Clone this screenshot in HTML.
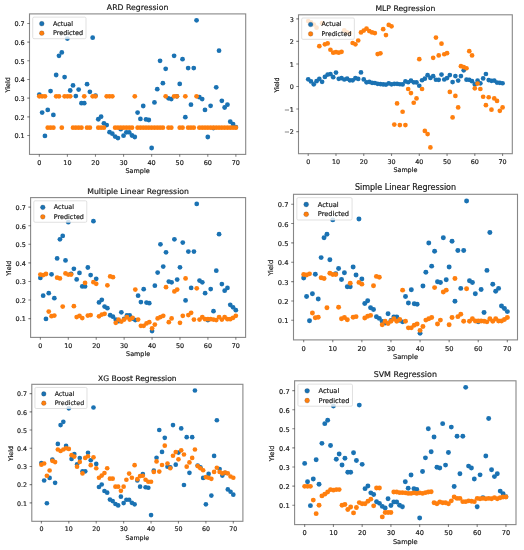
<!DOCTYPE html>
<html lang="en">
<head>
<meta charset="utf-8">
<title>Regression model comparison</title>
<style>
html,body{margin:0;padding:0;background:#fff;}
body{width:524px;height:550px;overflow:hidden;}
svg{display:block;font-family:"DejaVu Sans", "Liberation Sans", sans-serif;}
</style>
</head>
<body>
<svg width="524" height="550" viewBox="0 0 524 550">
<rect width="524" height="550" fill="#fff"/>
<g>
<g fill="#1a72b3">
<circle cx="39.33" cy="94.61" r="2.39"/><circle cx="42.14" cy="112.53" r="2.39"/><circle cx="44.94" cy="135.88" r="2.39"/><circle cx="47.75" cy="109.92" r="2.39"/><circle cx="50.56" cy="91.06" r="2.39"/><circle cx="53.37" cy="114.96" r="2.39"/><circle cx="56.17" cy="75" r="2.39"/><circle cx="58.98" cy="55.77" r="2.39"/><circle cx="61.79" cy="52.4" r="2.39"/><circle cx="64.6" cy="77.05" r="2.39"/><circle cx="67.41" cy="38.59" r="2.39"/><circle cx="70.21" cy="90.5" r="2.39"/><circle cx="73.02" cy="85.46" r="2.39"/><circle cx="75.83" cy="96.1" r="2.39"/><circle cx="78.64" cy="89.57" r="2.39"/><circle cx="81.44" cy="103.2" r="2.39"/><circle cx="84.25" cy="103.2" r="2.39"/><circle cx="87.06" cy="84.15" r="2.39"/><circle cx="89.87" cy="91.81" r="2.39"/><circle cx="92.68" cy="37.65" r="2.39"/><circle cx="95.48" cy="95.54" r="2.39"/><circle cx="98.29" cy="119.26" r="2.39"/><circle cx="101.1" cy="116.64" r="2.39"/><circle cx="103.91" cy="123.36" r="2.39"/><circle cx="106.71" cy="125.05" r="2.39"/><circle cx="109.52" cy="132.14" r="2.39"/><circle cx="112.33" cy="133.63" r="2.39"/><circle cx="115.14" cy="136.62" r="2.39"/><circle cx="117.95" cy="138.12" r="2.39"/><circle cx="120.75" cy="129.15" r="2.39"/><circle cx="123.56" cy="135.69" r="2.39"/><circle cx="126.37" cy="132.33" r="2.39"/><circle cx="129.18" cy="132.33" r="2.39"/><circle cx="131.98" cy="135.5" r="2.39"/><circle cx="134.79" cy="137" r="2.39"/><circle cx="137.6" cy="112.53" r="2.39"/><circle cx="140.41" cy="118.88" r="2.39"/><circle cx="143.22" cy="106" r="2.39"/><circle cx="146.02" cy="119.44" r="2.39"/><circle cx="148.83" cy="120" r="2.39"/><circle cx="151.64" cy="148.01" r="2.39"/><circle cx="154.45" cy="102.45" r="2.39"/><circle cx="157.25" cy="89.19" r="2.39"/><circle cx="160.06" cy="60.81" r="2.39"/><circle cx="162.87" cy="83.22" r="2.39"/><circle cx="165.68" cy="68.84" r="2.39"/><circle cx="168.49" cy="98.34" r="2.39"/><circle cx="171.29" cy="99.09" r="2.39"/><circle cx="174.1" cy="55.77" r="2.39"/><circle cx="176.91" cy="96.29" r="2.39"/><circle cx="179.72" cy="83.96" r="2.39"/><circle cx="182.52" cy="59.13" r="2.39"/><circle cx="185.33" cy="117.2" r="2.39"/><circle cx="188.14" cy="68.09" r="2.39"/><circle cx="190.95" cy="104.69" r="2.39"/><circle cx="193.76" cy="68.09" r="2.39"/><circle cx="196.56" cy="20.29" r="2.39"/><circle cx="199.37" cy="97.22" r="2.39"/><circle cx="202.18" cy="99.09" r="2.39"/><circle cx="204.99" cy="109.92" r="2.39"/><circle cx="207.79" cy="137" r="2.39"/><circle cx="210.6" cy="105.81" r="2.39"/><circle cx="213.41" cy="128.03" r="2.39"/><circle cx="216.22" cy="87.32" r="2.39"/><circle cx="219.03" cy="50.72" r="2.39"/><circle cx="221.83" cy="100.77" r="2.39"/><circle cx="224.64" cy="107.49" r="2.39"/><circle cx="227.45" cy="104.69" r="2.39"/><circle cx="230.26" cy="121.68" r="2.39"/><circle cx="233.06" cy="124.11" r="2.39"/><circle cx="235.87" cy="127.1" r="2.39"/>
</g>
<g fill="#ff7f0e">
<circle cx="39.33" cy="96.29" r="2.39"/><circle cx="42.14" cy="96.29" r="2.39"/><circle cx="44.94" cy="96.29" r="2.39"/><circle cx="47.75" cy="127.66" r="2.39"/><circle cx="50.56" cy="127.66" r="2.39"/><circle cx="53.37" cy="127.66" r="2.39"/><circle cx="56.17" cy="96.29" r="2.39"/><circle cx="58.98" cy="96.29" r="2.39"/><circle cx="61.79" cy="127.66" r="2.39"/><circle cx="64.6" cy="96.29" r="2.39"/><circle cx="67.41" cy="96.29" r="2.39"/><circle cx="70.21" cy="96.29" r="2.39"/><circle cx="73.02" cy="127.66" r="2.39"/><circle cx="75.83" cy="127.66" r="2.39"/><circle cx="78.64" cy="127.66" r="2.39"/><circle cx="81.44" cy="127.66" r="2.39"/><circle cx="84.25" cy="96.29" r="2.39"/><circle cx="87.06" cy="127.66" r="2.39"/><circle cx="89.87" cy="127.66" r="2.39"/><circle cx="92.68" cy="96.29" r="2.39"/><circle cx="95.48" cy="96.29" r="2.39"/><circle cx="98.29" cy="127.66" r="2.39"/><circle cx="101.1" cy="127.66" r="2.39"/><circle cx="103.91" cy="127.66" r="2.39"/><circle cx="106.71" cy="96.29" r="2.39"/><circle cx="109.52" cy="96.29" r="2.39"/><circle cx="112.33" cy="96.29" r="2.39"/><circle cx="115.14" cy="127.66" r="2.39"/><circle cx="117.95" cy="127.66" r="2.39"/><circle cx="120.75" cy="127.66" r="2.39"/><circle cx="123.56" cy="127.66" r="2.39"/><circle cx="126.37" cy="127.66" r="2.39"/><circle cx="129.18" cy="127.66" r="2.39"/><circle cx="131.98" cy="127.66" r="2.39"/><circle cx="134.79" cy="96.29" r="2.39"/><circle cx="137.6" cy="127.66" r="2.39"/><circle cx="140.41" cy="127.66" r="2.39"/><circle cx="143.22" cy="127.66" r="2.39"/><circle cx="146.02" cy="127.66" r="2.39"/><circle cx="148.83" cy="127.66" r="2.39"/><circle cx="151.64" cy="127.66" r="2.39"/><circle cx="154.45" cy="127.66" r="2.39"/><circle cx="157.25" cy="127.66" r="2.39"/><circle cx="160.06" cy="127.66" r="2.39"/><circle cx="162.87" cy="127.66" r="2.39"/><circle cx="165.68" cy="96.29" r="2.39"/><circle cx="168.49" cy="127.66" r="2.39"/><circle cx="171.29" cy="127.66" r="2.39"/><circle cx="174.1" cy="96.29" r="2.39"/><circle cx="176.91" cy="96.29" r="2.39"/><circle cx="179.72" cy="127.66" r="2.39"/><circle cx="182.52" cy="127.66" r="2.39"/><circle cx="185.33" cy="96.29" r="2.39"/><circle cx="188.14" cy="127.66" r="2.39"/><circle cx="190.95" cy="127.66" r="2.39"/><circle cx="193.76" cy="127.66" r="2.39"/><circle cx="196.56" cy="96.29" r="2.39"/><circle cx="199.37" cy="127.66" r="2.39"/><circle cx="202.18" cy="127.66" r="2.39"/><circle cx="204.99" cy="127.66" r="2.39"/><circle cx="207.79" cy="127.66" r="2.39"/><circle cx="210.6" cy="127.66" r="2.39"/><circle cx="213.41" cy="127.66" r="2.39"/><circle cx="216.22" cy="127.66" r="2.39"/><circle cx="219.03" cy="127.66" r="2.39"/><circle cx="221.83" cy="127.66" r="2.39"/><circle cx="224.64" cy="127.66" r="2.39"/><circle cx="227.45" cy="127.66" r="2.39"/><circle cx="230.26" cy="127.66" r="2.39"/><circle cx="233.06" cy="127.66" r="2.39"/><circle cx="235.87" cy="127.66" r="2.39"/>
</g>
<rect x="29.5" y="13.9" width="216.2" height="140.5" fill="none" stroke="#000" stroke-opacity="0.47" stroke-width="1.1"/>
<path d="M39.33 154.4v2.26M67.41 154.4v2.26M95.48 154.4v2.26M123.56 154.4v2.26M151.64 154.4v2.26M179.72 154.4v2.26M207.79 154.4v2.26M235.87 154.4v2.26M29.5 135.5h-2.26M29.5 116.83h-2.26M29.5 98.16h-2.26M29.5 79.48h-2.26M29.5 60.81h-2.26M29.5 42.13h-2.26M29.5 23.46h-2.26" stroke="#000" stroke-opacity="0.47" stroke-width="1.1" fill="none"/>
<g font-size="6.46" fill="#1a1a1a" stroke="#1a1a1a" stroke-width="0.18">
<text x="39.33" y="164.67" text-anchor="middle">0</text>
<text x="67.41" y="164.67" text-anchor="middle">10</text>
<text x="95.48" y="164.67" text-anchor="middle">20</text>
<text x="123.56" y="164.67" text-anchor="middle">30</text>
<text x="151.64" y="164.67" text-anchor="middle">40</text>
<text x="179.72" y="164.67" text-anchor="middle">50</text>
<text x="207.79" y="164.67" text-anchor="middle">60</text>
<text x="235.87" y="164.67" text-anchor="middle">70</text>
<text x="24.66" y="138.34" text-anchor="end">0.1</text>
<text x="24.66" y="119.67" text-anchor="end">0.2</text>
<text x="24.66" y="101" text-anchor="end">0.3</text>
<text x="24.66" y="82.32" text-anchor="end">0.4</text>
<text x="24.66" y="63.65" text-anchor="end">0.5</text>
<text x="24.66" y="44.98" text-anchor="end">0.6</text>
<text x="24.66" y="26.3" text-anchor="end">0.7</text>
<text x="137.6" y="173.26" text-anchor="middle">Sample</text>
<text transform="translate(9.8 84.85) rotate(-90)" text-anchor="middle">Yield</text>
<rect x="32.73" y="17.13" width="53.28" height="21.57" rx="1.29" fill="#fff" fill-opacity="0.8" stroke="#d4d4d4" stroke-width="0.7"/>
<circle cx="41.77" cy="23.72" r="2.39" fill="#1a72b3"/>
<circle cx="41.77" cy="33.21" r="2.39" fill="#ff7f0e"/>
<text x="52.88" y="25.72">Actual</text>
<text x="52.88" y="35.21">Predicted</text>
</g>
<text x="137.6" y="10.03" text-anchor="middle" font-size="7.75" fill="#1a1a1a" stroke="#1a1a1a" stroke-width="0.18">ARD Regression</text>
</g>
<g>
<g fill="#1a72b3">
<circle cx="308.22" cy="79.31" r="2.36"/><circle cx="310.99" cy="81.48" r="2.36"/><circle cx="313.77" cy="84.3" r="2.36"/><circle cx="316.55" cy="81.16" r="2.36"/><circle cx="319.32" cy="78.88" r="2.36"/><circle cx="322.1" cy="81.77" r="2.36"/><circle cx="324.88" cy="76.94" r="2.36"/><circle cx="327.65" cy="74.62" r="2.36"/><circle cx="330.43" cy="74.22" r="2.36"/><circle cx="333.21" cy="77.19" r="2.36"/><circle cx="335.98" cy="72.55" r="2.36"/><circle cx="338.76" cy="78.82" r="2.36"/><circle cx="341.54" cy="78.21" r="2.36"/><circle cx="344.31" cy="79.49" r="2.36"/><circle cx="347.09" cy="78.7" r="2.36"/><circle cx="349.87" cy="80.35" r="2.36"/><circle cx="352.64" cy="80.35" r="2.36"/><circle cx="355.42" cy="78.05" r="2.36"/><circle cx="358.2" cy="78.97" r="2.36"/><circle cx="360.97" cy="72.43" r="2.36"/><circle cx="363.75" cy="79.42" r="2.36"/><circle cx="366.53" cy="82.29" r="2.36"/><circle cx="369.3" cy="81.97" r="2.36"/><circle cx="372.08" cy="82.78" r="2.36"/><circle cx="374.86" cy="82.99" r="2.36"/><circle cx="377.63" cy="83.84" r="2.36"/><circle cx="380.41" cy="84.02" r="2.36"/><circle cx="383.19" cy="84.39" r="2.36"/><circle cx="385.96" cy="84.57" r="2.36"/><circle cx="388.74" cy="83.48" r="2.36"/><circle cx="391.52" cy="84.27" r="2.36"/><circle cx="394.29" cy="83.87" r="2.36"/><circle cx="397.07" cy="83.87" r="2.36"/><circle cx="399.85" cy="84.25" r="2.36"/><circle cx="402.62" cy="84.43" r="2.36"/><circle cx="405.4" cy="81.48" r="2.36"/><circle cx="408.18" cy="82.24" r="2.36"/><circle cx="410.95" cy="80.69" r="2.36"/><circle cx="413.73" cy="82.31" r="2.36"/><circle cx="416.51" cy="82.38" r="2.36"/><circle cx="419.28" cy="85.76" r="2.36"/><circle cx="422.06" cy="80.26" r="2.36"/><circle cx="424.84" cy="78.66" r="2.36"/><circle cx="427.61" cy="75.23" r="2.36"/><circle cx="430.39" cy="77.94" r="2.36"/><circle cx="433.17" cy="76.2" r="2.36"/><circle cx="435.94" cy="79.76" r="2.36"/><circle cx="438.72" cy="79.85" r="2.36"/><circle cx="441.5" cy="74.62" r="2.36"/><circle cx="444.27" cy="79.51" r="2.36"/><circle cx="447.05" cy="78.03" r="2.36"/><circle cx="449.83" cy="75.03" r="2.36"/><circle cx="452.6" cy="82.04" r="2.36"/><circle cx="455.38" cy="76.11" r="2.36"/><circle cx="458.16" cy="80.53" r="2.36"/><circle cx="460.93" cy="76.11" r="2.36"/><circle cx="463.71" cy="70.34" r="2.36"/><circle cx="466.49" cy="79.63" r="2.36"/><circle cx="469.26" cy="79.85" r="2.36"/><circle cx="472.04" cy="81.16" r="2.36"/><circle cx="474.82" cy="84.43" r="2.36"/><circle cx="477.59" cy="80.66" r="2.36"/><circle cx="480.37" cy="83.35" r="2.36"/><circle cx="483.15" cy="78.43" r="2.36"/><circle cx="485.92" cy="74.01" r="2.36"/><circle cx="488.7" cy="80.06" r="2.36"/><circle cx="491.48" cy="80.87" r="2.36"/><circle cx="494.25" cy="80.53" r="2.36"/><circle cx="497.03" cy="82.58" r="2.36"/><circle cx="499.81" cy="82.87" r="2.36"/><circle cx="502.58" cy="83.24" r="2.36"/>
</g>
<g fill="#ff7f0e">
<circle cx="308.22" cy="21.11" r="2.36"/><circle cx="310.99" cy="22.24" r="2.36"/><circle cx="313.77" cy="24.5" r="2.36"/><circle cx="316.55" cy="27.65" r="2.36"/><circle cx="319.32" cy="46.14" r="2.36"/><circle cx="322.1" cy="23.14" r="2.36"/><circle cx="324.88" cy="44.34" r="2.36"/><circle cx="327.65" cy="43.44" r="2.36"/><circle cx="330.43" cy="49.75" r="2.36"/><circle cx="333.21" cy="52.68" r="2.36"/><circle cx="335.98" cy="52.23" r="2.36"/><circle cx="338.76" cy="52.68" r="2.36"/><circle cx="341.54" cy="51.78" r="2.36"/><circle cx="344.31" cy="30.36" r="2.36"/><circle cx="347.09" cy="32.39" r="2.36"/><circle cx="349.87" cy="33.29" r="2.36"/><circle cx="352.64" cy="42.99" r="2.36"/><circle cx="355.42" cy="44.34" r="2.36"/><circle cx="358.2" cy="40.51" r="2.36"/><circle cx="360.97" cy="32.39" r="2.36"/><circle cx="363.75" cy="30.58" r="2.36"/><circle cx="366.53" cy="28.55" r="2.36"/><circle cx="369.3" cy="31.04" r="2.36"/><circle cx="372.08" cy="32.39" r="2.36"/><circle cx="374.86" cy="33.06" r="2.36"/><circle cx="377.63" cy="54.03" r="2.36"/><circle cx="380.41" cy="53.36" r="2.36"/><circle cx="383.19" cy="29.23" r="2.36"/><circle cx="385.96" cy="35.09" r="2.36"/><circle cx="388.74" cy="24.95" r="2.36"/><circle cx="391.52" cy="26.3" r="2.36"/><circle cx="394.29" cy="124.61" r="2.36"/><circle cx="397.07" cy="103.42" r="2.36"/><circle cx="399.85" cy="125.06" r="2.36"/><circle cx="402.62" cy="111.76" r="2.36"/><circle cx="405.4" cy="125.06" r="2.36"/><circle cx="408.18" cy="88.99" r="2.36"/><circle cx="410.95" cy="93.04" r="2.36"/><circle cx="413.73" cy="102.74" r="2.36"/><circle cx="416.51" cy="98.46" r="2.36"/><circle cx="419.28" cy="59.22" r="2.36"/><circle cx="422.06" cy="88.99" r="2.36"/><circle cx="424.84" cy="130.93" r="2.36"/><circle cx="427.61" cy="134.08" r="2.36"/><circle cx="430.39" cy="147.39" r="2.36"/><circle cx="433.17" cy="57.87" r="2.36"/><circle cx="435.94" cy="37.57" r="2.36"/><circle cx="438.72" cy="55.39" r="2.36"/><circle cx="441.5" cy="43.66" r="2.36"/><circle cx="444.27" cy="54.26" r="2.36"/><circle cx="447.05" cy="53.13" r="2.36"/><circle cx="449.83" cy="91.92" r="2.36"/><circle cx="452.6" cy="117.4" r="2.36"/><circle cx="455.38" cy="95.98" r="2.36"/><circle cx="458.16" cy="107.48" r="2.36"/><circle cx="460.93" cy="66.21" r="2.36"/><circle cx="463.71" cy="67.11" r="2.36"/><circle cx="466.49" cy="68.24" r="2.36"/><circle cx="469.26" cy="51.22" r="2.36"/><circle cx="472.04" cy="55.39" r="2.36"/><circle cx="474.82" cy="88.31" r="2.36"/><circle cx="477.59" cy="83.57" r="2.36"/><circle cx="480.37" cy="88.99" r="2.36"/><circle cx="483.15" cy="96.76" r="2.36"/><circle cx="485.92" cy="105.22" r="2.36"/><circle cx="488.7" cy="97.26" r="2.36"/><circle cx="491.48" cy="109.73" r="2.36"/><circle cx="494.25" cy="98.46" r="2.36"/><circle cx="497.03" cy="100.94" r="2.36"/><circle cx="499.81" cy="110.86" r="2.36"/><circle cx="502.58" cy="107.48" r="2.36"/>
</g>
<rect x="298.5" y="14.8" width="213.8" height="138.9" fill="none" stroke="#000" stroke-opacity="0.47" stroke-width="1.1"/>
<path d="M308.22 153.7v2.24M335.98 153.7v2.24M363.75 153.7v2.24M391.52 153.7v2.24M419.28 153.7v2.24M447.05 153.7v2.24M474.82 153.7v2.24M502.58 153.7v2.24M298.5 131.6h-2.24M298.5 109.05h-2.24M298.5 86.5h-2.24M298.5 63.96h-2.24M298.5 41.41h-2.24M298.5 18.86h-2.24" stroke="#000" stroke-opacity="0.47" stroke-width="1.1" fill="none"/>
<g font-size="6.39" fill="#1a1a1a" stroke="#1a1a1a" stroke-width="0.18">
<text x="308.22" y="163.85" text-anchor="middle">0</text>
<text x="335.98" y="163.85" text-anchor="middle">10</text>
<text x="363.75" y="163.85" text-anchor="middle">20</text>
<text x="391.52" y="163.85" text-anchor="middle">30</text>
<text x="419.28" y="163.85" text-anchor="middle">40</text>
<text x="447.05" y="163.85" text-anchor="middle">50</text>
<text x="474.82" y="163.85" text-anchor="middle">60</text>
<text x="502.58" y="163.85" text-anchor="middle">70</text>
<text x="293.71" y="134.41" text-anchor="end">−2</text>
<text x="293.71" y="111.86" text-anchor="end">−1</text>
<text x="293.71" y="89.31" text-anchor="end">0</text>
<text x="293.71" y="66.77" text-anchor="end">1</text>
<text x="293.71" y="44.22" text-anchor="end">2</text>
<text x="293.71" y="21.67" text-anchor="end">3</text>
<text x="405.4" y="172.35" text-anchor="middle">Sample</text>
<text transform="translate(279.02 84.95) rotate(-90)" text-anchor="middle">Yield</text>
<rect x="301.69" y="17.99" width="52.68" height="21.33" rx="1.28" fill="#fff" fill-opacity="0.8" stroke="#d4d4d4" stroke-width="0.7"/>
<circle cx="310.63" cy="24.51" r="2.36" fill="#1a72b3"/>
<circle cx="310.63" cy="33.89" r="2.36" fill="#ff7f0e"/>
<text x="321.62" y="26.49">Actual</text>
<text x="321.62" y="35.87">Predicted</text>
</g>
<text x="405.4" y="10.97" text-anchor="middle" font-size="7.66" fill="#1a1a1a" stroke="#1a1a1a" stroke-width="0.18">MLP Regression</text>
</g>
<g>
<g fill="#1a72b3">
<circle cx="40.37" cy="277.91" r="2.38"/><circle cx="43.16" cy="295.74" r="2.38"/><circle cx="45.96" cy="318.97" r="2.38"/><circle cx="48.75" cy="293.14" r="2.38"/><circle cx="51.54" cy="274.37" r="2.38"/><circle cx="54.33" cy="298.16" r="2.38"/><circle cx="57.13" cy="258.4" r="2.38"/><circle cx="59.92" cy="239.26" r="2.38"/><circle cx="62.71" cy="235.91" r="2.38"/><circle cx="65.5" cy="260.44" r="2.38"/><circle cx="68.29" cy="222.16" r="2.38"/><circle cx="71.09" cy="273.82" r="2.38"/><circle cx="73.88" cy="268.8" r="2.38"/><circle cx="76.67" cy="279.39" r="2.38"/><circle cx="79.46" cy="272.89" r="2.38"/><circle cx="82.26" cy="286.45" r="2.38"/><circle cx="85.05" cy="286.45" r="2.38"/><circle cx="87.84" cy="267.5" r="2.38"/><circle cx="90.63" cy="275.12" r="2.38"/><circle cx="93.42" cy="221.23" r="2.38"/><circle cx="96.22" cy="278.83" r="2.38"/><circle cx="99.01" cy="302.43" r="2.38"/><circle cx="101.8" cy="299.83" r="2.38"/><circle cx="104.59" cy="306.52" r="2.38"/><circle cx="107.39" cy="308.19" r="2.38"/><circle cx="110.18" cy="315.25" r="2.38"/><circle cx="112.97" cy="316.74" r="2.38"/><circle cx="115.76" cy="319.71" r="2.38"/><circle cx="118.55" cy="321.2" r="2.38"/><circle cx="121.35" cy="312.28" r="2.38"/><circle cx="124.14" cy="318.78" r="2.38"/><circle cx="126.93" cy="315.44" r="2.38"/><circle cx="129.72" cy="315.44" r="2.38"/><circle cx="132.52" cy="318.6" r="2.38"/><circle cx="135.31" cy="320.08" r="2.38"/><circle cx="138.1" cy="295.74" r="2.38"/><circle cx="140.89" cy="302.06" r="2.38"/><circle cx="143.68" cy="289.24" r="2.38"/><circle cx="146.48" cy="302.62" r="2.38"/><circle cx="149.27" cy="303.17" r="2.38"/><circle cx="152.06" cy="331.05" r="2.38"/><circle cx="154.85" cy="285.71" r="2.38"/><circle cx="157.65" cy="272.52" r="2.38"/><circle cx="160.44" cy="244.27" r="2.38"/><circle cx="163.23" cy="266.57" r="2.38"/><circle cx="166.02" cy="252.26" r="2.38"/><circle cx="168.81" cy="281.62" r="2.38"/><circle cx="171.61" cy="282.36" r="2.38"/><circle cx="174.4" cy="239.26" r="2.38"/><circle cx="177.19" cy="279.58" r="2.38"/><circle cx="179.98" cy="267.31" r="2.38"/><circle cx="182.78" cy="242.6" r="2.38"/><circle cx="185.57" cy="300.39" r="2.38"/><circle cx="188.36" cy="251.52" r="2.38"/><circle cx="191.15" cy="287.94" r="2.38"/><circle cx="193.94" cy="251.52" r="2.38"/><circle cx="196.74" cy="203.95" r="2.38"/><circle cx="199.53" cy="280.51" r="2.38"/><circle cx="202.32" cy="282.36" r="2.38"/><circle cx="205.11" cy="293.14" r="2.38"/><circle cx="207.91" cy="320.08" r="2.38"/><circle cx="210.7" cy="289.05" r="2.38"/><circle cx="213.49" cy="311.16" r="2.38"/><circle cx="216.28" cy="270.66" r="2.38"/><circle cx="219.07" cy="234.24" r="2.38"/><circle cx="221.87" cy="284.04" r="2.38"/><circle cx="224.66" cy="290.73" r="2.38"/><circle cx="227.45" cy="287.94" r="2.38"/><circle cx="230.24" cy="304.85" r="2.38"/><circle cx="233.04" cy="307.26" r="2.38"/><circle cx="235.83" cy="310.24" r="2.38"/>
</g>
<g fill="#ff7f0e">
<circle cx="40.37" cy="274.56" r="2.38"/><circle cx="43.16" cy="275.12" r="2.38"/><circle cx="45.96" cy="274" r="2.38"/><circle cx="48.75" cy="311.54" r="2.38"/><circle cx="51.54" cy="316.18" r="2.38"/><circle cx="54.33" cy="315.62" r="2.38"/><circle cx="57.13" cy="277.72" r="2.38"/><circle cx="59.92" cy="278.46" r="2.38"/><circle cx="62.71" cy="306.52" r="2.38"/><circle cx="65.5" cy="273.45" r="2.38"/><circle cx="68.29" cy="274.56" r="2.38"/><circle cx="71.09" cy="274.56" r="2.38"/><circle cx="73.88" cy="306.15" r="2.38"/><circle cx="76.67" cy="317.11" r="2.38"/><circle cx="79.46" cy="315.81" r="2.38"/><circle cx="82.26" cy="318.04" r="2.38"/><circle cx="85.05" cy="282.92" r="2.38"/><circle cx="87.84" cy="315.62" r="2.38"/><circle cx="90.63" cy="315.07" r="2.38"/><circle cx="93.42" cy="282.18" r="2.38"/><circle cx="96.22" cy="283.85" r="2.38"/><circle cx="99.01" cy="316.37" r="2.38"/><circle cx="101.8" cy="314.6" r="2.38"/><circle cx="104.59" cy="313.86" r="2.38"/><circle cx="107.39" cy="285.34" r="2.38"/><circle cx="110.18" cy="276.42" r="2.38"/><circle cx="112.97" cy="277.16" r="2.38"/><circle cx="115.76" cy="322.87" r="2.38"/><circle cx="118.55" cy="319.53" r="2.38"/><circle cx="121.35" cy="321.57" r="2.38"/><circle cx="124.14" cy="319.53" r="2.38"/><circle cx="126.93" cy="317.11" r="2.38"/><circle cx="129.72" cy="319.53" r="2.38"/><circle cx="132.52" cy="317.85" r="2.38"/><circle cx="135.31" cy="289.61" r="2.38"/><circle cx="138.1" cy="319.53" r="2.38"/><circle cx="140.89" cy="325.84" r="2.38"/><circle cx="143.68" cy="325.84" r="2.38"/><circle cx="146.48" cy="323.43" r="2.38"/><circle cx="149.27" cy="322.13" r="2.38"/><circle cx="152.06" cy="328.26" r="2.38"/><circle cx="154.85" cy="324.54" r="2.38"/><circle cx="157.65" cy="318.41" r="2.38"/><circle cx="160.44" cy="317.11" r="2.38"/><circle cx="163.23" cy="315.81" r="2.38"/><circle cx="166.02" cy="287.2" r="2.38"/><circle cx="168.81" cy="322.13" r="2.38"/><circle cx="171.61" cy="318.41" r="2.38"/><circle cx="174.4" cy="291.38" r="2.38"/><circle cx="177.19" cy="289.61" r="2.38"/><circle cx="179.98" cy="322.87" r="2.38"/><circle cx="182.78" cy="315.81" r="2.38"/><circle cx="185.57" cy="278.46" r="2.38"/><circle cx="188.36" cy="315.07" r="2.38"/><circle cx="191.15" cy="312.84" r="2.38"/><circle cx="193.94" cy="319.53" r="2.38"/><circle cx="196.74" cy="288.31" r="2.38"/><circle cx="199.53" cy="319.53" r="2.38"/><circle cx="202.32" cy="317.11" r="2.38"/><circle cx="205.11" cy="319.15" r="2.38"/><circle cx="207.91" cy="319.15" r="2.38"/><circle cx="210.7" cy="319.15" r="2.38"/><circle cx="213.49" cy="319.53" r="2.38"/><circle cx="216.28" cy="320.08" r="2.38"/><circle cx="219.07" cy="317.11" r="2.38"/><circle cx="221.87" cy="319.53" r="2.38"/><circle cx="224.66" cy="317.11" r="2.38"/><circle cx="227.45" cy="319.15" r="2.38"/><circle cx="230.24" cy="319.15" r="2.38"/><circle cx="233.04" cy="317.85" r="2.38"/><circle cx="235.83" cy="315.81" r="2.38"/>
</g>
<rect x="30.6" y="197.6" width="215" height="139.8" fill="none" stroke="#000" stroke-opacity="0.47" stroke-width="1.1"/>
<path d="M40.37 337.4v2.25M68.29 337.4v2.25M96.22 337.4v2.25M124.14 337.4v2.25M152.06 337.4v2.25M179.98 337.4v2.25M207.91 337.4v2.25M235.83 337.4v2.25M30.6 318.6h-2.25M30.6 300.02h-2.25M30.6 281.44h-2.25M30.6 262.85h-2.25M30.6 244.27h-2.25M30.6 225.69h-2.25M30.6 207.11h-2.25" stroke="#000" stroke-opacity="0.47" stroke-width="1.1" fill="none"/>
<g font-size="6.42" fill="#1a1a1a" stroke="#1a1a1a" stroke-width="0.18">
<text x="40.37" y="347.61" text-anchor="middle">0</text>
<text x="68.29" y="347.61" text-anchor="middle">10</text>
<text x="96.22" y="347.61" text-anchor="middle">20</text>
<text x="124.14" y="347.61" text-anchor="middle">30</text>
<text x="152.06" y="347.61" text-anchor="middle">40</text>
<text x="179.98" y="347.61" text-anchor="middle">50</text>
<text x="207.91" y="347.61" text-anchor="middle">60</text>
<text x="235.83" y="347.61" text-anchor="middle">70</text>
<text x="25.78" y="321.42" text-anchor="end">0.1</text>
<text x="25.78" y="302.84" text-anchor="end">0.2</text>
<text x="25.78" y="284.26" text-anchor="end">0.3</text>
<text x="25.78" y="265.68" text-anchor="end">0.4</text>
<text x="25.78" y="247.1" text-anchor="end">0.5</text>
<text x="25.78" y="228.52" text-anchor="end">0.6</text>
<text x="25.78" y="209.94" text-anchor="end">0.7</text>
<text x="138.1" y="356.15" text-anchor="middle">Sample</text>
<text transform="translate(11.01 268.2) rotate(-90)" text-anchor="middle">Yield</text>
<rect x="33.81" y="200.81" width="52.98" height="21.45" rx="1.28" fill="#fff" fill-opacity="0.8" stroke="#d4d4d4" stroke-width="0.7"/>
<circle cx="42.8" cy="207.36" r="2.38" fill="#1a72b3"/>
<circle cx="42.8" cy="216.8" r="2.38" fill="#ff7f0e"/>
<text x="53.85" y="209.35">Actual</text>
<text x="53.85" y="218.79">Predicted</text>
</g>
<text x="138.1" y="193.75" text-anchor="middle" font-size="7.71" fill="#1a1a1a" stroke="#1a1a1a" stroke-width="0.18">Multiple Linear Regression</text>
</g>
<g>
<g fill="#1a72b3">
<circle cx="303.68" cy="277.94" r="2.48"/><circle cx="306.59" cy="296.51" r="2.48"/><circle cx="309.5" cy="320.7" r="2.48"/><circle cx="312.41" cy="293.8" r="2.48"/><circle cx="315.32" cy="274.26" r="2.48"/><circle cx="318.23" cy="299.03" r="2.48"/><circle cx="321.14" cy="257.62" r="2.48"/><circle cx="324.05" cy="237.69" r="2.48"/><circle cx="326.95" cy="234.2" r="2.48"/><circle cx="329.86" cy="259.75" r="2.48"/><circle cx="332.77" cy="219.88" r="2.48"/><circle cx="335.68" cy="273.68" r="2.48"/><circle cx="338.59" cy="268.45" r="2.48"/><circle cx="341.5" cy="279.48" r="2.48"/><circle cx="344.41" cy="272.71" r="2.48"/><circle cx="347.32" cy="286.84" r="2.48"/><circle cx="350.23" cy="286.84" r="2.48"/><circle cx="353.14" cy="267.1" r="2.48"/><circle cx="356.05" cy="275.03" r="2.48"/><circle cx="358.95" cy="218.91" r="2.48"/><circle cx="361.86" cy="278.9" r="2.48"/><circle cx="364.77" cy="303.48" r="2.48"/><circle cx="367.68" cy="300.77" r="2.48"/><circle cx="370.59" cy="307.74" r="2.48"/><circle cx="373.5" cy="309.48" r="2.48"/><circle cx="376.41" cy="316.83" r="2.48"/><circle cx="379.32" cy="318.38" r="2.48"/><circle cx="382.23" cy="321.48" r="2.48"/><circle cx="385.14" cy="323.03" r="2.48"/><circle cx="388.05" cy="313.74" r="2.48"/><circle cx="390.95" cy="320.51" r="2.48"/><circle cx="393.86" cy="317.03" r="2.48"/><circle cx="396.77" cy="317.03" r="2.48"/><circle cx="399.68" cy="320.32" r="2.48"/><circle cx="402.59" cy="321.86" r="2.48"/><circle cx="405.5" cy="296.51" r="2.48"/><circle cx="408.41" cy="303.09" r="2.48"/><circle cx="411.32" cy="289.74" r="2.48"/><circle cx="414.23" cy="303.67" r="2.48"/><circle cx="417.14" cy="304.25" r="2.48"/><circle cx="420.05" cy="333.28" r="2.48"/><circle cx="422.95" cy="286.06" r="2.48"/><circle cx="425.86" cy="272.32" r="2.48"/><circle cx="428.77" cy="242.91" r="2.48"/><circle cx="431.68" cy="266.13" r="2.48"/><circle cx="434.59" cy="251.23" r="2.48"/><circle cx="437.5" cy="281.81" r="2.48"/><circle cx="440.41" cy="282.58" r="2.48"/><circle cx="443.32" cy="237.69" r="2.48"/><circle cx="446.23" cy="279.68" r="2.48"/><circle cx="449.14" cy="266.91" r="2.48"/><circle cx="452.05" cy="241.17" r="2.48"/><circle cx="454.95" cy="301.35" r="2.48"/><circle cx="457.86" cy="250.46" r="2.48"/><circle cx="460.77" cy="288.39" r="2.48"/><circle cx="463.68" cy="250.46" r="2.48"/><circle cx="466.59" cy="200.92" r="2.48"/><circle cx="469.5" cy="280.65" r="2.48"/><circle cx="472.41" cy="282.58" r="2.48"/><circle cx="475.32" cy="293.8" r="2.48"/><circle cx="478.23" cy="321.86" r="2.48"/><circle cx="481.14" cy="289.55" r="2.48"/><circle cx="484.05" cy="312.58" r="2.48"/><circle cx="486.95" cy="270.39" r="2.48"/><circle cx="489.86" cy="232.46" r="2.48"/><circle cx="492.77" cy="284.32" r="2.48"/><circle cx="495.68" cy="291.29" r="2.48"/><circle cx="498.59" cy="288.39" r="2.48"/><circle cx="501.5" cy="306" r="2.48"/><circle cx="504.41" cy="308.51" r="2.48"/><circle cx="507.32" cy="311.61" r="2.48"/>
</g>
<g fill="#ff7f0e">
<circle cx="303.68" cy="274.45" r="2.48"/><circle cx="306.59" cy="275.03" r="2.48"/><circle cx="309.5" cy="273.87" r="2.48"/><circle cx="312.41" cy="312.96" r="2.48"/><circle cx="315.32" cy="317.8" r="2.48"/><circle cx="318.23" cy="317.22" r="2.48"/><circle cx="321.14" cy="277.74" r="2.48"/><circle cx="324.05" cy="278.52" r="2.48"/><circle cx="326.95" cy="307.74" r="2.48"/><circle cx="329.86" cy="273.29" r="2.48"/><circle cx="332.77" cy="274.45" r="2.48"/><circle cx="335.68" cy="274.45" r="2.48"/><circle cx="338.59" cy="307.35" r="2.48"/><circle cx="341.5" cy="318.77" r="2.48"/><circle cx="344.41" cy="317.41" r="2.48"/><circle cx="347.32" cy="319.74" r="2.48"/><circle cx="350.23" cy="283.16" r="2.48"/><circle cx="353.14" cy="317.22" r="2.48"/><circle cx="356.05" cy="316.64" r="2.48"/><circle cx="358.95" cy="282.39" r="2.48"/><circle cx="361.86" cy="284.13" r="2.48"/><circle cx="364.77" cy="317.99" r="2.48"/><circle cx="367.68" cy="316.16" r="2.48"/><circle cx="370.59" cy="315.38" r="2.48"/><circle cx="373.5" cy="285.68" r="2.48"/><circle cx="376.41" cy="276.39" r="2.48"/><circle cx="379.32" cy="277.16" r="2.48"/><circle cx="382.23" cy="324.77" r="2.48"/><circle cx="385.14" cy="321.28" r="2.48"/><circle cx="388.05" cy="323.41" r="2.48"/><circle cx="390.95" cy="321.28" r="2.48"/><circle cx="393.86" cy="318.77" r="2.48"/><circle cx="396.77" cy="321.28" r="2.48"/><circle cx="399.68" cy="319.54" r="2.48"/><circle cx="402.59" cy="290.13" r="2.48"/><circle cx="405.5" cy="321.28" r="2.48"/><circle cx="408.41" cy="327.86" r="2.48"/><circle cx="411.32" cy="327.86" r="2.48"/><circle cx="414.23" cy="325.35" r="2.48"/><circle cx="417.14" cy="323.99" r="2.48"/><circle cx="420.05" cy="330.38" r="2.48"/><circle cx="422.95" cy="326.51" r="2.48"/><circle cx="425.86" cy="320.12" r="2.48"/><circle cx="428.77" cy="318.77" r="2.48"/><circle cx="431.68" cy="317.41" r="2.48"/><circle cx="434.59" cy="287.61" r="2.48"/><circle cx="437.5" cy="323.99" r="2.48"/><circle cx="440.41" cy="320.12" r="2.48"/><circle cx="443.32" cy="291.97" r="2.48"/><circle cx="446.23" cy="290.13" r="2.48"/><circle cx="449.14" cy="324.77" r="2.48"/><circle cx="452.05" cy="317.41" r="2.48"/><circle cx="454.95" cy="278.52" r="2.48"/><circle cx="457.86" cy="316.64" r="2.48"/><circle cx="460.77" cy="314.32" r="2.48"/><circle cx="463.68" cy="321.28" r="2.48"/><circle cx="466.59" cy="288.77" r="2.48"/><circle cx="469.5" cy="321.28" r="2.48"/><circle cx="472.41" cy="318.77" r="2.48"/><circle cx="475.32" cy="320.9" r="2.48"/><circle cx="478.23" cy="320.9" r="2.48"/><circle cx="481.14" cy="320.9" r="2.48"/><circle cx="484.05" cy="321.28" r="2.48"/><circle cx="486.95" cy="321.86" r="2.48"/><circle cx="489.86" cy="318.77" r="2.48"/><circle cx="492.77" cy="321.28" r="2.48"/><circle cx="495.68" cy="318.77" r="2.48"/><circle cx="498.59" cy="320.9" r="2.48"/><circle cx="501.5" cy="320.9" r="2.48"/><circle cx="504.41" cy="319.54" r="2.48"/><circle cx="507.32" cy="317.41" r="2.48"/>
</g>
<rect x="293.5" y="194.3" width="224" height="145.6" fill="none" stroke="#000" stroke-opacity="0.47" stroke-width="1.1"/>
<path d="M303.68 339.9v2.34M332.77 339.9v2.34M361.86 339.9v2.34M390.95 339.9v2.34M420.05 339.9v2.34M449.14 339.9v2.34M478.23 339.9v2.34M507.32 339.9v2.34M293.5 320.32h-2.34M293.5 300.96h-2.34M293.5 281.61h-2.34M293.5 262.26h-2.34M293.5 242.91h-2.34M293.5 223.56h-2.34M293.5 204.21h-2.34" stroke="#000" stroke-opacity="0.47" stroke-width="1.1" fill="none"/>
<g font-size="6.69" fill="#1a1a1a" stroke="#1a1a1a" stroke-width="0.18">
<text x="303.68" y="350.54" text-anchor="middle">0</text>
<text x="332.77" y="350.54" text-anchor="middle">10</text>
<text x="361.86" y="350.54" text-anchor="middle">20</text>
<text x="390.95" y="350.54" text-anchor="middle">30</text>
<text x="420.05" y="350.54" text-anchor="middle">40</text>
<text x="449.14" y="350.54" text-anchor="middle">50</text>
<text x="478.23" y="350.54" text-anchor="middle">60</text>
<text x="507.32" y="350.54" text-anchor="middle">70</text>
<text x="288.48" y="323.26" text-anchor="end">0.1</text>
<text x="288.48" y="303.91" text-anchor="end">0.2</text>
<text x="288.48" y="284.56" text-anchor="end">0.3</text>
<text x="288.48" y="265.21" text-anchor="end">0.4</text>
<text x="288.48" y="245.85" text-anchor="end">0.5</text>
<text x="288.48" y="226.5" text-anchor="end">0.6</text>
<text x="288.48" y="207.15" text-anchor="end">0.7</text>
<text x="405.5" y="359.44" text-anchor="middle">Sample</text>
<text transform="translate(273.09 267.8) rotate(-90)" text-anchor="middle">Yield</text>
<rect x="296.85" y="197.65" width="55.2" height="22.35" rx="1.34" fill="#fff" fill-opacity="0.8" stroke="#d4d4d4" stroke-width="0.7"/>
<circle cx="306.21" cy="204.47" r="2.48" fill="#1a72b3"/>
<circle cx="306.21" cy="214.3" r="2.48" fill="#ff7f0e"/>
<text x="317.72" y="206.54">Actual</text>
<text x="317.72" y="216.38">Predicted</text>
</g>
<text x="405.5" y="190.29" text-anchor="middle" font-size="8.03" fill="#1a1a1a" stroke="#1a1a1a" stroke-width="0.18">Simple Linear Regression</text>
</g>
<g>
<g fill="#1a72b3">
<circle cx="41.4" cy="463" r="2.33"/><circle cx="44.14" cy="480.48" r="2.33"/><circle cx="46.88" cy="503.24" r="2.33"/><circle cx="49.62" cy="477.93" r="2.33"/><circle cx="52.36" cy="459.54" r="2.33"/><circle cx="55.1" cy="482.84" r="2.33"/><circle cx="57.84" cy="443.88" r="2.33"/><circle cx="60.59" cy="425.12" r="2.33"/><circle cx="63.33" cy="421.85" r="2.33"/><circle cx="66.07" cy="445.88" r="2.33"/><circle cx="68.81" cy="408.37" r="2.33"/><circle cx="71.55" cy="458.99" r="2.33"/><circle cx="74.29" cy="454.07" r="2.33"/><circle cx="77.04" cy="464.45" r="2.33"/><circle cx="79.78" cy="458.08" r="2.33"/><circle cx="82.52" cy="471.37" r="2.33"/><circle cx="85.26" cy="471.37" r="2.33"/><circle cx="88" cy="452.8" r="2.33"/><circle cx="90.74" cy="460.27" r="2.33"/><circle cx="93.49" cy="407.46" r="2.33"/><circle cx="96.23" cy="463.91" r="2.33"/><circle cx="98.97" cy="487.03" r="2.33"/><circle cx="101.71" cy="484.48" r="2.33"/><circle cx="104.45" cy="491.04" r="2.33"/><circle cx="107.19" cy="492.68" r="2.33"/><circle cx="109.93" cy="499.6" r="2.33"/><circle cx="112.68" cy="501.05" r="2.33"/><circle cx="115.42" cy="503.97" r="2.33"/><circle cx="118.16" cy="505.42" r="2.33"/><circle cx="120.9" cy="496.68" r="2.33"/><circle cx="123.64" cy="503.06" r="2.33"/><circle cx="126.38" cy="499.78" r="2.33"/><circle cx="129.13" cy="499.78" r="2.33"/><circle cx="131.87" cy="502.87" r="2.33"/><circle cx="134.61" cy="504.33" r="2.33"/><circle cx="137.35" cy="480.48" r="2.33"/><circle cx="140.09" cy="486.67" r="2.33"/><circle cx="142.83" cy="474.1" r="2.33"/><circle cx="145.57" cy="487.21" r="2.33"/><circle cx="148.32" cy="487.76" r="2.33"/><circle cx="151.06" cy="515.07" r="2.33"/><circle cx="153.8" cy="470.64" r="2.33"/><circle cx="156.54" cy="457.72" r="2.33"/><circle cx="159.28" cy="430.04" r="2.33"/><circle cx="162.02" cy="451.89" r="2.33"/><circle cx="164.77" cy="437.87" r="2.33"/><circle cx="167.51" cy="466.64" r="2.33"/><circle cx="170.25" cy="467.37" r="2.33"/><circle cx="172.99" cy="425.12" r="2.33"/><circle cx="175.73" cy="464.64" r="2.33"/><circle cx="178.47" cy="452.62" r="2.33"/><circle cx="181.21" cy="428.4" r="2.33"/><circle cx="183.96" cy="485.03" r="2.33"/><circle cx="186.7" cy="437.14" r="2.33"/><circle cx="189.44" cy="472.83" r="2.33"/><circle cx="192.18" cy="437.14" r="2.33"/><circle cx="194.92" cy="390.53" r="2.33"/><circle cx="197.66" cy="465.55" r="2.33"/><circle cx="200.41" cy="467.37" r="2.33"/><circle cx="203.15" cy="477.93" r="2.33"/><circle cx="205.89" cy="504.33" r="2.33"/><circle cx="208.63" cy="473.92" r="2.33"/><circle cx="211.37" cy="495.59" r="2.33"/><circle cx="214.11" cy="455.9" r="2.33"/><circle cx="216.86" cy="420.21" r="2.33"/><circle cx="219.6" cy="469.01" r="2.33"/><circle cx="222.34" cy="475.56" r="2.33"/><circle cx="225.08" cy="472.83" r="2.33"/><circle cx="227.82" cy="489.4" r="2.33"/><circle cx="230.56" cy="491.77" r="2.33"/><circle cx="233.3" cy="494.68" r="2.33"/>
</g>
<g fill="#ff7f0e">
<circle cx="41.4" cy="464.64" r="2.33"/><circle cx="44.14" cy="463.54" r="2.33"/><circle cx="46.88" cy="475.74" r="2.33"/><circle cx="49.62" cy="470.46" r="2.33"/><circle cx="52.36" cy="460.81" r="2.33"/><circle cx="55.1" cy="462.09" r="2.33"/><circle cx="57.84" cy="449.52" r="2.33"/><circle cx="60.59" cy="450.98" r="2.33"/><circle cx="63.33" cy="449.52" r="2.33"/><circle cx="66.07" cy="448.25" r="2.33"/><circle cx="68.81" cy="448.89" r="2.33"/><circle cx="71.55" cy="455.17" r="2.33"/><circle cx="74.29" cy="456.62" r="2.33"/><circle cx="77.04" cy="466.64" r="2.33"/><circle cx="79.78" cy="461.9" r="2.33"/><circle cx="82.52" cy="473.38" r="2.33"/><circle cx="85.26" cy="457.9" r="2.33"/><circle cx="88" cy="456.26" r="2.33"/><circle cx="90.74" cy="465.18" r="2.33"/><circle cx="93.49" cy="457.35" r="2.33"/><circle cx="96.23" cy="468.28" r="2.33"/><circle cx="98.97" cy="477.75" r="2.33"/><circle cx="101.71" cy="475.56" r="2.33"/><circle cx="104.45" cy="473.01" r="2.33"/><circle cx="107.19" cy="468.28" r="2.33"/><circle cx="109.93" cy="478.66" r="2.33"/><circle cx="112.68" cy="478.66" r="2.33"/><circle cx="115.42" cy="486.67" r="2.33"/><circle cx="118.16" cy="486.67" r="2.33"/><circle cx="120.9" cy="490.86" r="2.33"/><circle cx="123.64" cy="486.67" r="2.33"/><circle cx="126.38" cy="479.75" r="2.33"/><circle cx="129.13" cy="473.56" r="2.33"/><circle cx="131.87" cy="477.75" r="2.33"/><circle cx="134.61" cy="465.18" r="2.33"/><circle cx="137.35" cy="479.2" r="2.33"/><circle cx="140.09" cy="476.11" r="2.33"/><circle cx="142.83" cy="475.74" r="2.33"/><circle cx="145.57" cy="479.75" r="2.33"/><circle cx="148.32" cy="481.75" r="2.33"/><circle cx="151.06" cy="481.75" r="2.33"/><circle cx="153.8" cy="471.92" r="2.33"/><circle cx="156.54" cy="461.45" r="2.33"/><circle cx="159.28" cy="471.55" r="2.33"/><circle cx="162.02" cy="465" r="2.33"/><circle cx="164.77" cy="445.7" r="2.33"/><circle cx="167.51" cy="463.54" r="2.33"/><circle cx="170.25" cy="468.28" r="2.33"/><circle cx="172.99" cy="455.79" r="2.33"/><circle cx="175.73" cy="452.07" r="2.33"/><circle cx="178.47" cy="459.36" r="2.33"/><circle cx="181.21" cy="450.34" r="2.33"/><circle cx="183.96" cy="454.53" r="2.33"/><circle cx="186.7" cy="466.64" r="2.33"/><circle cx="189.44" cy="462.45" r="2.33"/><circle cx="192.18" cy="457.9" r="2.33"/><circle cx="194.92" cy="449.52" r="2.33"/><circle cx="197.66" cy="466.09" r="2.33"/><circle cx="200.41" cy="468.28" r="2.33"/><circle cx="203.15" cy="470.28" r="2.33"/><circle cx="205.89" cy="477.2" r="2.33"/><circle cx="208.63" cy="477.75" r="2.33"/><circle cx="211.37" cy="478.84" r="2.33"/><circle cx="214.11" cy="471.92" r="2.33"/><circle cx="216.86" cy="467.73" r="2.33"/><circle cx="219.6" cy="471.92" r="2.33"/><circle cx="222.34" cy="473.38" r="2.33"/><circle cx="225.08" cy="472.54" r="2.33"/><circle cx="227.82" cy="473.38" r="2.33"/><circle cx="230.56" cy="476.47" r="2.33"/><circle cx="233.3" cy="477.75" r="2.33"/>
</g>
<rect x="31.8" y="384.3" width="211.1" height="137" fill="none" stroke="#000" stroke-opacity="0.47" stroke-width="1.1"/>
<path d="M41.4 521.3v2.21M68.81 521.3v2.21M96.23 521.3v2.21M123.64 521.3v2.21M151.06 521.3v2.21M178.47 521.3v2.21M205.89 521.3v2.21M233.3 521.3v2.21M31.8 502.87h-2.21M31.8 484.66h-2.21M31.8 466.46h-2.21M31.8 448.25h-2.21M31.8 430.04h-2.21M31.8 411.83h-2.21M31.8 393.62h-2.21" stroke="#000" stroke-opacity="0.47" stroke-width="1.1" fill="none"/>
<g font-size="6.31" fill="#1a1a1a" stroke="#1a1a1a" stroke-width="0.18">
<text x="41.4" y="531.33" text-anchor="middle">0</text>
<text x="68.81" y="531.33" text-anchor="middle">10</text>
<text x="96.23" y="531.33" text-anchor="middle">20</text>
<text x="123.64" y="531.33" text-anchor="middle">30</text>
<text x="151.06" y="531.33" text-anchor="middle">40</text>
<text x="178.47" y="531.33" text-anchor="middle">50</text>
<text x="205.89" y="531.33" text-anchor="middle">60</text>
<text x="233.3" y="531.33" text-anchor="middle">70</text>
<text x="27.07" y="505.65" text-anchor="end">0.1</text>
<text x="27.07" y="487.44" text-anchor="end">0.2</text>
<text x="27.07" y="469.23" text-anchor="end">0.3</text>
<text x="27.07" y="451.02" text-anchor="end">0.4</text>
<text x="27.07" y="432.81" text-anchor="end">0.5</text>
<text x="27.07" y="414.61" text-anchor="end">0.6</text>
<text x="27.07" y="396.4" text-anchor="end">0.7</text>
<text x="137.35" y="539.71" text-anchor="middle">Sample</text>
<text transform="translate(12.57 453.5) rotate(-90)" text-anchor="middle">Yield</text>
<rect x="34.95" y="387.45" width="52.02" height="21.06" rx="1.26" fill="#fff" fill-opacity="0.8" stroke="#d4d4d4" stroke-width="0.7"/>
<circle cx="43.78" cy="393.88" r="2.33" fill="#1a72b3"/>
<circle cx="43.78" cy="403.15" r="2.33" fill="#ff7f0e"/>
<text x="54.63" y="395.84">Actual</text>
<text x="54.63" y="405.11">Predicted</text>
</g>
<text x="137.35" y="380.52" text-anchor="middle" font-size="7.57" fill="#1a1a1a" stroke="#1a1a1a" stroke-width="0.18">XG Boost Regression</text>
</g>
<g>
<g fill="#1a72b3">
<circle cx="304.66" cy="463.4" r="2.45"/><circle cx="307.54" cy="481.75" r="2.45"/><circle cx="310.41" cy="505.64" r="2.45"/><circle cx="313.29" cy="479.07" r="2.45"/><circle cx="316.16" cy="459.77" r="2.45"/><circle cx="319.04" cy="484.24" r="2.45"/><circle cx="321.92" cy="443.34" r="2.45"/><circle cx="324.79" cy="423.65" r="2.45"/><circle cx="327.67" cy="420.21" r="2.45"/><circle cx="330.54" cy="445.44" r="2.45"/><circle cx="333.42" cy="406.07" r="2.45"/><circle cx="336.29" cy="459.2" r="2.45"/><circle cx="339.17" cy="454.04" r="2.45"/><circle cx="342.04" cy="464.93" r="2.45"/><circle cx="344.92" cy="458.24" r="2.45"/><circle cx="347.79" cy="472.19" r="2.45"/><circle cx="350.67" cy="472.19" r="2.45"/><circle cx="353.54" cy="452.7" r="2.45"/><circle cx="356.42" cy="460.54" r="2.45"/><circle cx="359.29" cy="405.11" r="2.45"/><circle cx="362.17" cy="464.36" r="2.45"/><circle cx="365.05" cy="488.63" r="2.45"/><circle cx="367.92" cy="485.96" r="2.45"/><circle cx="370.8" cy="492.84" r="2.45"/><circle cx="373.67" cy="494.56" r="2.45"/><circle cx="376.55" cy="501.82" r="2.45"/><circle cx="379.42" cy="503.35" r="2.45"/><circle cx="382.3" cy="506.41" r="2.45"/><circle cx="385.17" cy="507.93" r="2.45"/><circle cx="388.05" cy="498.76" r="2.45"/><circle cx="390.92" cy="505.45" r="2.45"/><circle cx="393.8" cy="502.01" r="2.45"/><circle cx="396.67" cy="502.01" r="2.45"/><circle cx="399.55" cy="505.26" r="2.45"/><circle cx="402.42" cy="506.79" r="2.45"/><circle cx="405.3" cy="481.75" r="2.45"/><circle cx="408.18" cy="488.25" r="2.45"/><circle cx="411.05" cy="475.06" r="2.45"/><circle cx="413.93" cy="488.82" r="2.45"/><circle cx="416.8" cy="489.4" r="2.45"/><circle cx="419.68" cy="518.06" r="2.45"/><circle cx="422.55" cy="471.43" r="2.45"/><circle cx="425.43" cy="457.86" r="2.45"/><circle cx="428.3" cy="428.81" r="2.45"/><circle cx="431.18" cy="451.74" r="2.45"/><circle cx="434.05" cy="437.03" r="2.45"/><circle cx="436.93" cy="467.23" r="2.45"/><circle cx="439.8" cy="467.99" r="2.45"/><circle cx="442.68" cy="423.65" r="2.45"/><circle cx="445.55" cy="465.12" r="2.45"/><circle cx="448.43" cy="452.51" r="2.45"/><circle cx="451.31" cy="427.09" r="2.45"/><circle cx="454.18" cy="486.53" r="2.45"/><circle cx="457.06" cy="436.26" r="2.45"/><circle cx="459.93" cy="473.72" r="2.45"/><circle cx="462.81" cy="436.26" r="2.45"/><circle cx="465.68" cy="387.34" r="2.45"/><circle cx="468.56" cy="466.08" r="2.45"/><circle cx="471.43" cy="467.99" r="2.45"/><circle cx="474.31" cy="479.07" r="2.45"/><circle cx="477.18" cy="506.79" r="2.45"/><circle cx="480.06" cy="474.87" r="2.45"/><circle cx="482.93" cy="497.61" r="2.45"/><circle cx="485.81" cy="455.95" r="2.45"/><circle cx="488.68" cy="418.49" r="2.45"/><circle cx="491.56" cy="469.71" r="2.45"/><circle cx="494.44" cy="476.59" r="2.45"/><circle cx="497.31" cy="473.72" r="2.45"/><circle cx="500.19" cy="491.12" r="2.45"/><circle cx="503.06" cy="493.6" r="2.45"/><circle cx="505.94" cy="496.66" r="2.45"/>
</g>
<g fill="#ff7f0e">
<circle cx="304.66" cy="486.34" r="2.45"/><circle cx="307.54" cy="486.34" r="2.45"/><circle cx="310.41" cy="486.34" r="2.45"/><circle cx="313.29" cy="500.1" r="2.45"/><circle cx="316.16" cy="513.67" r="2.45"/><circle cx="319.04" cy="505.26" r="2.45"/><circle cx="321.92" cy="495.89" r="2.45"/><circle cx="324.79" cy="494.17" r="2.45"/><circle cx="327.67" cy="492.07" r="2.45"/><circle cx="330.54" cy="489.59" r="2.45"/><circle cx="333.42" cy="490.16" r="2.45"/><circle cx="336.29" cy="489.59" r="2.45"/><circle cx="339.17" cy="489.59" r="2.45"/><circle cx="342.04" cy="505.26" r="2.45"/><circle cx="344.92" cy="504.49" r="2.45"/><circle cx="347.79" cy="509.46" r="2.45"/><circle cx="350.67" cy="506.98" r="2.45"/><circle cx="353.54" cy="512.9" r="2.45"/><circle cx="356.42" cy="507.55" r="2.45"/><circle cx="359.29" cy="502.58" r="2.45"/><circle cx="362.17" cy="503.73" r="2.45"/><circle cx="365.05" cy="503.73" r="2.45"/><circle cx="367.92" cy="501.24" r="2.45"/><circle cx="370.8" cy="499.14" r="2.45"/><circle cx="373.67" cy="505.83" r="2.45"/><circle cx="376.55" cy="488.06" r="2.45"/><circle cx="379.42" cy="488.06" r="2.45"/><circle cx="382.3" cy="516.92" r="2.45"/><circle cx="385.17" cy="512.52" r="2.45"/><circle cx="388.05" cy="512.52" r="2.45"/><circle cx="390.92" cy="512.52" r="2.45"/><circle cx="393.8" cy="492.07" r="2.45"/><circle cx="396.67" cy="492.07" r="2.45"/><circle cx="399.55" cy="492.64" r="2.45"/><circle cx="402.42" cy="492.64" r="2.45"/><circle cx="405.3" cy="492.84" r="2.45"/><circle cx="408.18" cy="493.41" r="2.45"/><circle cx="411.05" cy="493.41" r="2.45"/><circle cx="413.93" cy="492.84" r="2.45"/><circle cx="416.8" cy="493.41" r="2.45"/><circle cx="419.68" cy="492.84" r="2.45"/><circle cx="422.55" cy="493.41" r="2.45"/><circle cx="425.43" cy="492.64" r="2.45"/><circle cx="428.3" cy="492.07" r="2.45"/><circle cx="431.18" cy="491.69" r="2.45"/><circle cx="434.05" cy="502.77" r="2.45"/><circle cx="436.93" cy="503.73" r="2.45"/><circle cx="439.8" cy="502.01" r="2.45"/><circle cx="442.68" cy="502.77" r="2.45"/><circle cx="445.55" cy="502.77" r="2.45"/><circle cx="448.43" cy="503.73" r="2.45"/><circle cx="451.31" cy="500.86" r="2.45"/><circle cx="454.18" cy="497.04" r="2.45"/><circle cx="457.06" cy="498.38" r="2.45"/><circle cx="459.93" cy="498.38" r="2.45"/><circle cx="462.81" cy="501.63" r="2.45"/><circle cx="465.68" cy="501.63" r="2.45"/><circle cx="468.56" cy="500.86" r="2.45"/><circle cx="471.43" cy="501.24" r="2.45"/><circle cx="474.31" cy="501.63" r="2.45"/><circle cx="477.18" cy="498.38" r="2.45"/><circle cx="480.06" cy="498.76" r="2.45"/><circle cx="482.93" cy="498.38" r="2.45"/><circle cx="485.81" cy="498.76" r="2.45"/><circle cx="488.68" cy="498.38" r="2.45"/><circle cx="491.56" cy="498.76" r="2.45"/><circle cx="494.44" cy="497.61" r="2.45"/><circle cx="497.31" cy="498.76" r="2.45"/><circle cx="500.19" cy="497.8" r="2.45"/><circle cx="503.06" cy="497.04" r="2.45"/><circle cx="505.94" cy="497.04" r="2.45"/>
</g>
<rect x="294.6" y="380.8" width="221.4" height="143.8" fill="none" stroke="#000" stroke-opacity="0.47" stroke-width="1.1"/>
<path d="M304.66 524.6v2.31M333.42 524.6v2.31M362.17 524.6v2.31M390.92 524.6v2.31M419.68 524.6v2.31M448.43 524.6v2.31M477.18 524.6v2.31M505.94 524.6v2.31M294.6 505.26h-2.31M294.6 486.15h-2.31M294.6 467.03h-2.31M294.6 447.92h-2.31M294.6 428.81h-2.31M294.6 409.7h-2.31M294.6 390.59h-2.31" stroke="#000" stroke-opacity="0.47" stroke-width="1.1" fill="none"/>
<g font-size="6.61" fill="#1a1a1a" stroke="#1a1a1a" stroke-width="0.18">
<text x="304.66" y="535.11" text-anchor="middle">0</text>
<text x="333.42" y="535.11" text-anchor="middle">10</text>
<text x="362.17" y="535.11" text-anchor="middle">20</text>
<text x="390.92" y="535.11" text-anchor="middle">30</text>
<text x="419.68" y="535.11" text-anchor="middle">40</text>
<text x="448.43" y="535.11" text-anchor="middle">50</text>
<text x="477.18" y="535.11" text-anchor="middle">60</text>
<text x="505.94" y="535.11" text-anchor="middle">70</text>
<text x="289.64" y="508.17" text-anchor="end">0.1</text>
<text x="289.64" y="489.06" text-anchor="end">0.2</text>
<text x="289.64" y="469.94" text-anchor="end">0.3</text>
<text x="289.64" y="450.83" text-anchor="end">0.4</text>
<text x="289.64" y="431.72" text-anchor="end">0.5</text>
<text x="289.64" y="412.61" text-anchor="end">0.6</text>
<text x="289.64" y="393.5" text-anchor="end">0.7</text>
<text x="405.3" y="543.91" text-anchor="middle">Sample</text>
<text transform="translate(274.43 453.4) rotate(-90)" text-anchor="middle">Yield</text>
<rect x="297.91" y="384.11" width="54.56" height="22.09" rx="1.32" fill="#fff" fill-opacity="0.8" stroke="#d4d4d4" stroke-width="0.7"/>
<circle cx="307.16" cy="390.85" r="2.45" fill="#1a72b3"/>
<circle cx="307.16" cy="400.57" r="2.45" fill="#ff7f0e"/>
<text x="318.54" y="392.9">Actual</text>
<text x="318.54" y="402.62">Predicted</text>
</g>
<text x="405.3" y="376.83" text-anchor="middle" font-size="7.94" fill="#1a1a1a" stroke="#1a1a1a" stroke-width="0.18">SVM Regression</text>
</g>
</svg>
</body>
</html>
